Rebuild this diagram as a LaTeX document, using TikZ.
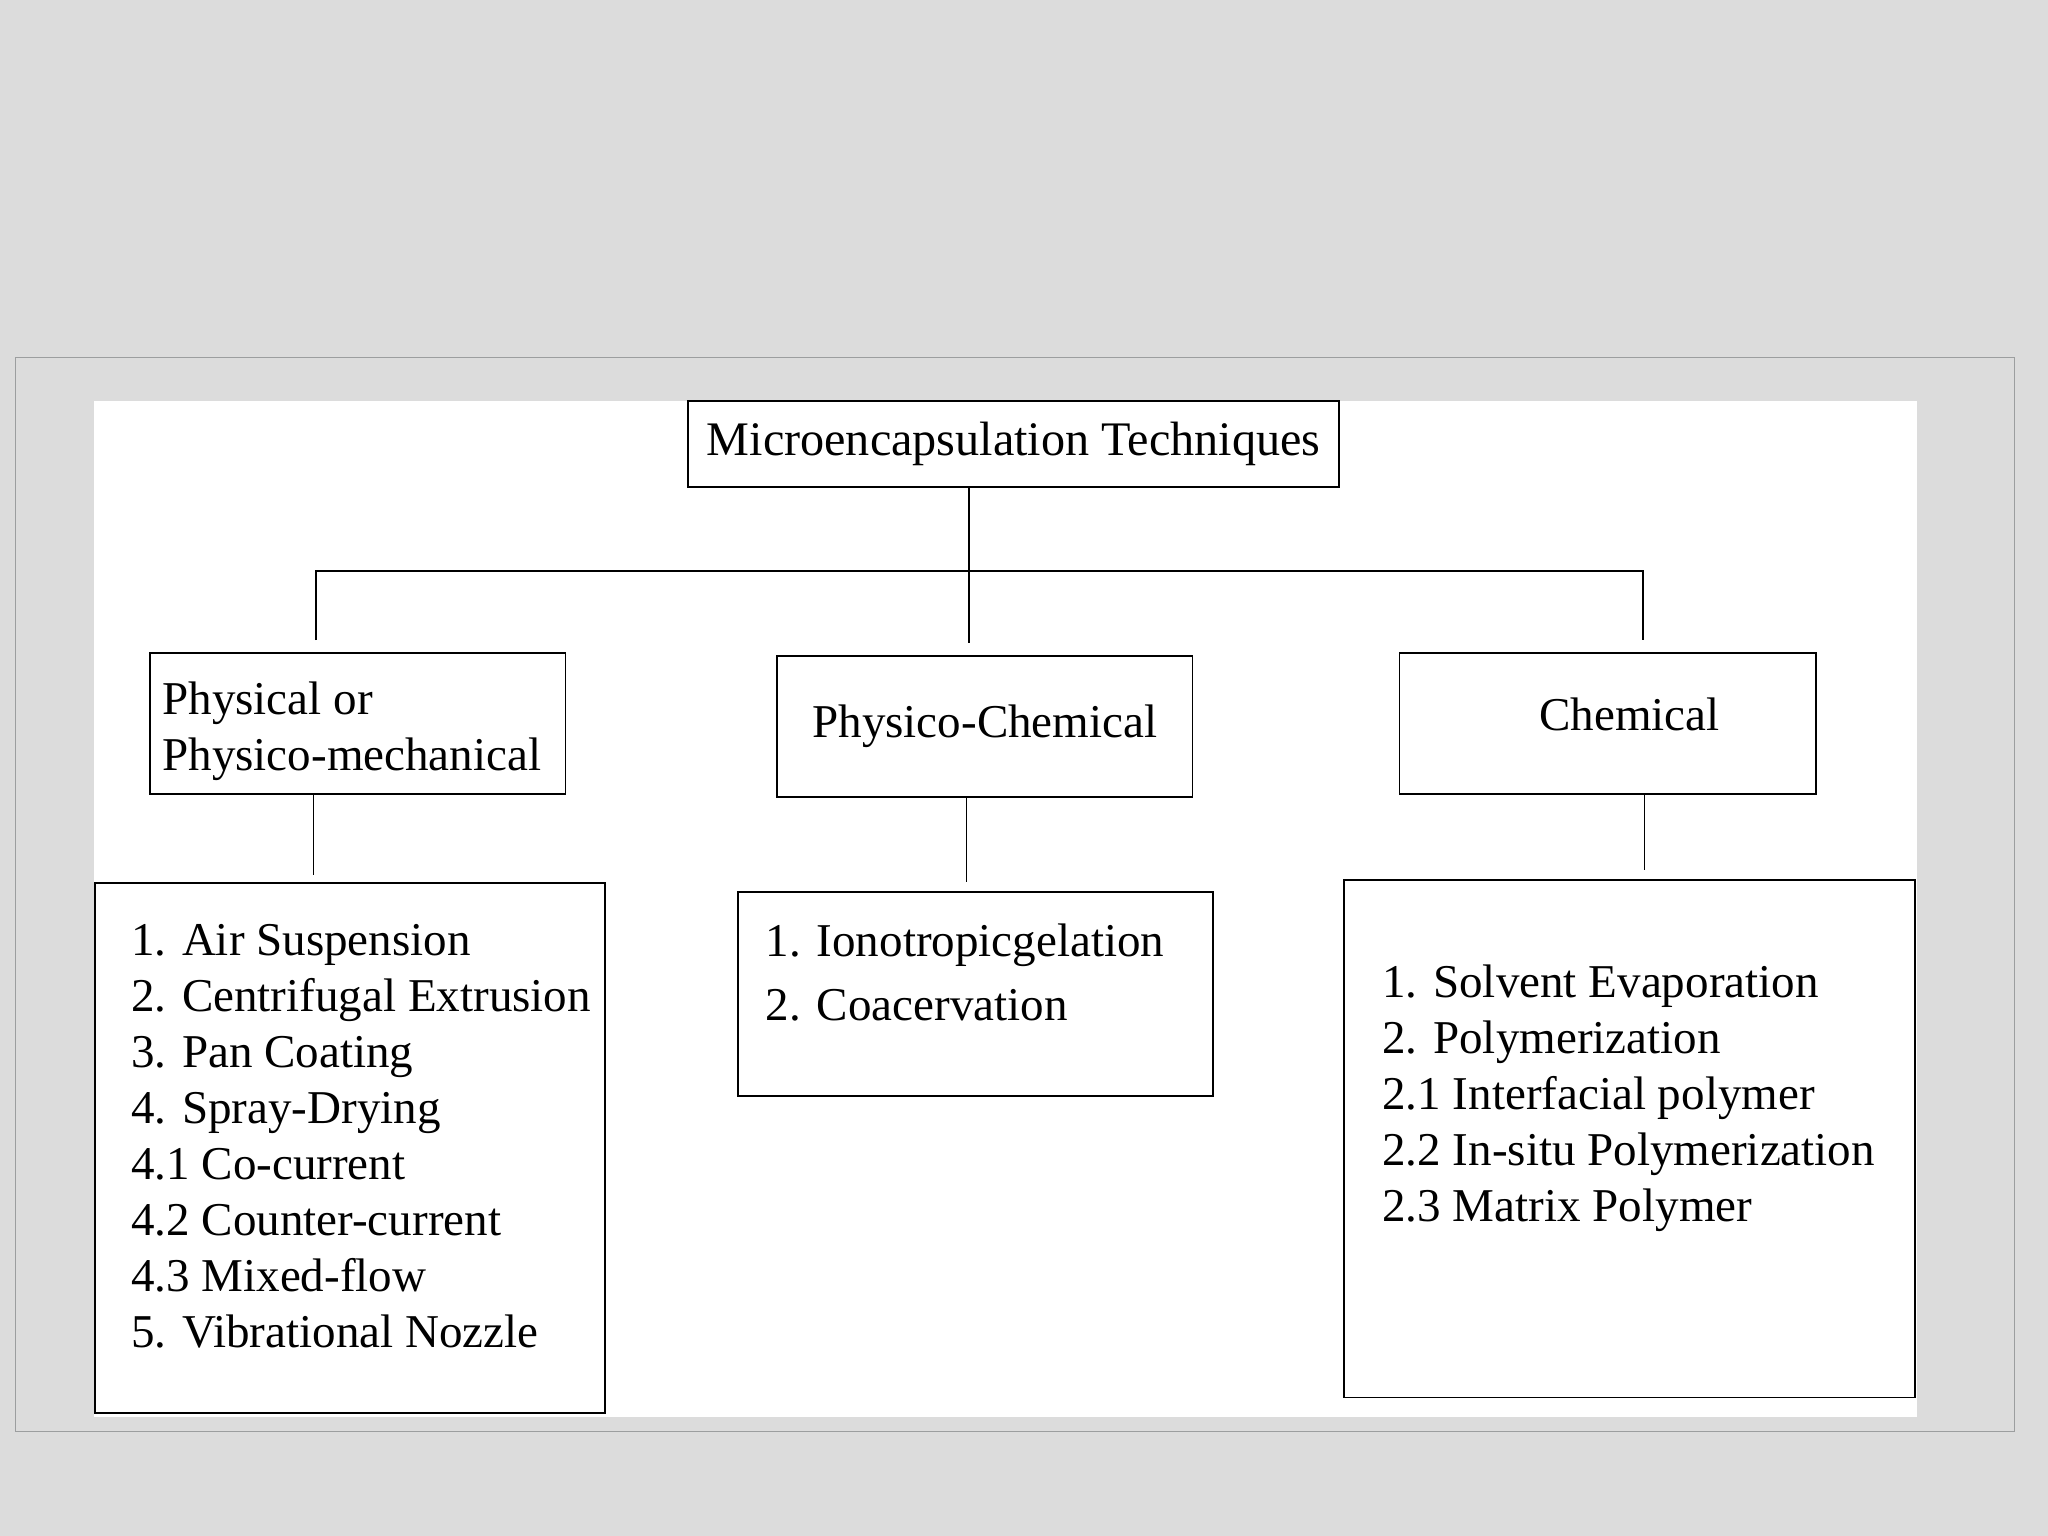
\documentclass[tikz,border=0pt]{standalone}
\usepackage{fontspec}
\setmainfont{Liberation Serif}
\definecolor{slideGray}{HTML}{DCDCDC}
\definecolor{frameGray}{HTML}{9C9E9F}
\tikzset{
  box/.style={draw=black, thick, fill=white, inner sep=0pt},
  item/.style={anchor=north west, align=left, inner sep=0pt},
  link/.style={draw=black, thick}
}
\begin{document}
\begin{tikzpicture}[x=0.02cm, y=-0.02cm]
    \fill [slideGray] (0,0) rectangle (1568,1176);
    \useasboundingbox (0,0) rectangle (1568,1176);
    \draw [frameGray] (12,274) rectangle (1542,1096);
    \fill [white] (72,307) rectangle (1468,1085);
    % heading
    \node [box, minimum width=498*0.02cm, minimum height=66*0.02cm, font=\fontsize{21}{24}\selectfont] (tech) at (776,340) {\raisebox{3pt}{Microencapsulation Techniques}};
    % three branches
    \node [box, minimum width=318*0.02cm, minimum height=108*0.02cm] (phys) at (274,554) {};
    \node [item, font=\fontsize{20.5}{24.4}\selectfont] (physname) at (124,522) {Physical or\\Physico-mechanical};
    \node [box, minimum width=318*0.02cm, minimum height=108*0.02cm, font=\fontsize{20.5}{24}\selectfont] (physchem) at (754,556) {Physico-Chemical};
    \node [box, minimum width=319*0.02cm, minimum height=108*0.02cm, font=\fontsize{20.5}{24}\selectfont] (chem) at (1231,554) {\hspace*{19pt}\raisebox{8pt}{Chemical}};
    % lists
    \node [box, minimum width=390*0.02cm, minimum height=406*0.02cm] (physlist) at (268,879) {};
    \node [box, minimum width=364*0.02cm, minimum height=156*0.02cm] (pclist) at (747,761) {};
    \node [box, minimum width=437*0.02cm, minimum height=396*0.02cm] (chemlist) at (1247.5,872) {};
    \node [item, font=\fontsize{20.5}{24.4}\selectfont] (physitems) at (100,707) {1. Air Suspension\\2. Centrifugal Extrusion\\3. Pan Coating\\4. Spray-Drying\\4.1 Co-current\\4.2 Counter-current\\4.3 Mixed-flow\\5. Vibrational Nozzle};
    \node [item, font=\fontsize{20.5}{28}\selectfont] (pcitems) at (586,707) {1. Ionotropicgelation\\2. Coacervation};
    \node [item, font=\fontsize{20.5}{24.4}\selectfont] (chemitems) at (1058,738) {1. Solvent Evaporation\\2. Polymerization\\2.1 Interfacial polymer\\2.2 In-situ Polymerization\\2.3 Matrix Polymer};
    % connectors
    \coordinate (mid) at (742,437);
    \coordinate (left) at (242,437);
    \coordinate (right) at (1258,437);
    \coordinate (leftend) at (242,490);
    \coordinate (midend) at (742,492);
    \coordinate (rightend) at (1258,490);
    \draw [link] (tech.south -| mid) -- (midend);
    \draw [link] (leftend) -- (left) -- (right) -- (rightend);
    \coordinate (physdown) at (240,670);
    \coordinate (pcdown) at (740,675);
    \coordinate (chemdown) at (1259,666);
    \draw [link] (phys.south -| physdown) -- (physdown);
    \draw [link] (physchem.south -| pcdown) -- (pcdown);
    \draw [link] (chem.south -| chemdown) -- (chemdown);
\end{tikzpicture}
\end{document}
